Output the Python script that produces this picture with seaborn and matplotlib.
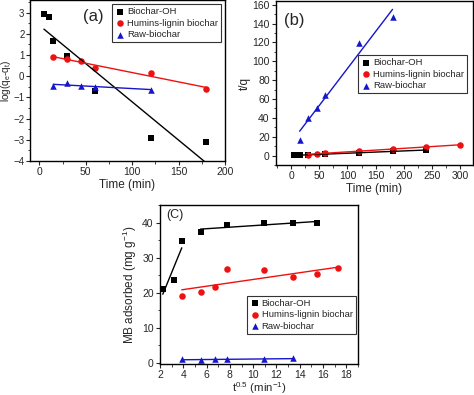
import numpy as np
import matplotlib
matplotlib.use('Agg')
import matplotlib.pyplot as plt
from matplotlib.ticker import AutoMinorLocator
import seaborn as sns

# ---- data ----
# (a) pseudo-first-order
a_oh_t = [5, 10, 15, 30, 60, 120, 180]
a_oh_y = [2.95, 2.8, 1.65, 0.98, -0.68, -2.92, -3.12]
a_hl_t = [15, 30, 45, 60, 120, 180]
a_hl_y = [0.9, 0.82, 0.72, 0.38, 0.15, -0.6]
a_raw_t = [15, 30, 45, 60, 120]
a_raw_y = [-0.45, -0.3, -0.48, -0.5, -0.63]

# (b) pseudo-second-order
b_oh_t = [5, 10, 15, 30, 60, 120, 180, 240]
b_oh_y = [0.1, 0.3, 0.5, 0.9, 1.5, 2.9, 4.5, 5.9]
b_hl_t = [30, 45, 60, 120, 180, 240, 300]
b_hl_y = [1.0, 2.0, 2.3, 4.8, 7.3, 9.5, 11.0]
b_raw_t = [15, 30, 45, 60, 120, 180]
b_raw_y = [17, 40, 50, 64, 119, 147]

# (c) intra-particle diffusion
c_oh_x = [2.24, 3.16, 3.87, 5.48, 7.75, 10.95, 13.42, 15.49]
c_oh_y = [21.0, 23.6, 34.7, 37.3, 39.4, 39.8, 39.8, 39.9]
c_hl_x = [3.87, 5.48, 6.71, 7.75, 10.95, 13.42, 15.49, 17.32]
c_hl_y = [19.0, 20.2, 21.5, 26.7, 26.5, 24.3, 25.3, 26.9]
c_raw_x = [3.87, 5.48, 6.71, 7.75, 10.95, 13.42]
c_raw_y = [0.9, 0.8, 0.9, 0.9, 1.0, 1.2]

labels = ['Biochar-OH', 'Humins-lignin biochar', 'Raw-biochar']
colors = ['black', '#ee1111', '#1515cc']
markers = ['s', 'o', '^']

#------------------------------------------------------------------------------

sns.set_style('ticks')
plt.rcParams['font.family'] = ['Liberation Sans', 'DejaVu Sans']
plt.rcParams['mathtext.fontset'] = 'custom'
plt.rcParams['mathtext.rm'] = 'Liberation Sans'
plt.rcParams['mathtext.it'] = 'Liberation Sans'

fig = plt.figure(figsize=(4.74, 3.95), dpi=100)
W, H = 474, 395
def box(x0, y0, x1, y1):
    return [x0 / W, 1 - y1 / H, (x1 - x0) / W, (y1 - y0) / H]

ax_a = fig.add_axes(box(30, 0, 225, 161))
ax_b = fig.add_axes(box(276, 1, 473, 165))
ax_c = fig.add_axes(box(160, 205, 358, 364))


def draw(ax, x, y, i, label=True):
    sns.regplot(x=np.array(x), y=np.array(y), ax=ax, ci=None,
                marker=markers[i], color=colors[i],
                label=labels[i] if label else None,
                scatter_kws=dict(s=22, linewidths=0, alpha=1),
                line_kws=dict(lw=1.0))


def style(ax):
    for s in ax.spines.values():
        s.set_linewidth(1.0)
        s.set_color('black')
    ax.xaxis.set_minor_locator(AutoMinorLocator(2))
    ax.yaxis.set_minor_locator(AutoMinorLocator(2))
    ax.tick_params(which='major', length=3, width=0.8, labelsize=7.5, pad=1.5)
    ax.tick_params(which='minor', length=1.8, width=0.6)


def legend(ax, anchor):
    leg = ax.legend(loc='upper right', bbox_to_anchor=anchor, fontsize=6.8,
                    frameon=True, fancybox=False, edgecolor='#333333',
                    handletextpad=0.2, borderpad=0.35, labelspacing=0.25,
                    handlelength=1.0, borderaxespad=0, framealpha=1)
    leg.get_frame().set_linewidth(0.8)


# (a)
draw(ax_a, a_oh_t, a_oh_y, 0)
draw(ax_a, a_hl_t, a_hl_y, 1)
draw(ax_a, a_raw_t, a_raw_y, 2)
ax_a.set_xlim(-10, 200)
ax_a.set_ylim(-4, 3.6)
ax_a.set_xticks([0, 50, 100, 150, 200])
ax_a.set_yticks(range(-4, 4))
ax_a.set_xlabel('Time (min)', fontsize=8.5, labelpad=1)
ax_a.set_ylabel('log(q$_e$-q$_t$)', fontsize=7.2)
ax_a.yaxis.set_label_coords(-0.088, 0.5)
ax_a.text(0.27, 0.9, '(a)', transform=ax_a.transAxes, fontsize=12,
          va='center', ha='left')
style(ax_a)
ax_a.tick_params(axis='y', pad=1, labelsize=7)
legend(ax_a, (0.98, 0.975))

# (b)
draw(ax_b, b_oh_t, b_oh_y, 0)
draw(ax_b, b_hl_t, b_hl_y, 1)
draw(ax_b, b_raw_t, b_raw_y, 2)
ax_b.set_xlim(-27, 323)
ax_b.set_ylim(-10, 164)
ax_b.set_xticks([0, 50, 100, 150, 200, 250, 300])
ax_b.set_yticks(range(0, 161, 20))
ax_b.set_xlabel('Time (min)', fontsize=8.5, labelpad=1)
ax_b.set_ylabel('t/q', fontsize=8.5, labelpad=1)
ax_b.text(0.04, 0.88, '(b)', transform=ax_b.transAxes, fontsize=12,
          va='center', ha='left')
style(ax_b)
legend(ax_b, (0.97, 0.67))

# (c)
draw(ax_c, c_oh_x[:3], c_oh_y[:3], 0)
draw(ax_c, c_oh_x[3:], c_oh_y[3:], 0, label=False)
draw(ax_c, c_hl_x, c_hl_y, 1)
draw(ax_c, c_raw_x, c_raw_y, 2)
ax_c.set_xlim(2, 19)
ax_c.set_ylim(-0.4, 45)
ax_c.set_xticks(range(2, 19, 2))
ax_c.set_yticks(range(0, 41, 10))
ax_c.set_xlabel('t$^{0.5}$ (min$^{-1}$)', fontsize=8.2)
ax_c.xaxis.set_label_coords(0.5, -0.1)
ax_c.set_ylabel('MB adsorbed (mg g$^{-1}$)', fontsize=8.5, labelpad=2)
ax_c.text(0.03, 0.94, '(C)', transform=ax_c.transAxes, fontsize=9,
          va='center', ha='left')
style(ax_c)
legend(ax_c, (0.99, 0.43))

fig.savefig('out.png', dpi=100)
